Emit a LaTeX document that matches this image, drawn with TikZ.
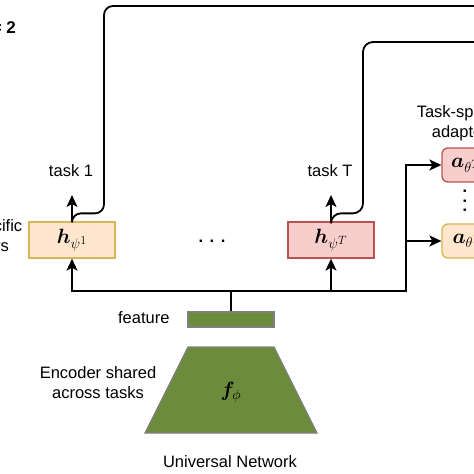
\documentclass[tikz,border=0pt]{standalone}
\usepackage{amsmath,bm}
\usepackage{fontspec}
\setmainfont{Liberation Sans}
\usetikzlibrary{arrows.meta}
\definecolor{orfill}{HTML}{FFE6CC}
\definecolor{ordraw}{HTML}{D6B656}
\definecolor{rdfill}{HTML}{F8CECC}
\definecolor{rddraw}{HTML}{B85450}
\definecolor{encgreen}{HTML}{6C8C3C}
\definecolor{encdraw}{HTML}{808080}
\begin{document}
\begin{tikzpicture}[x=1pt,y=-1pt,
  every node/.style={font=\fontsize{16.5}{20}\selectfont},
  mathlbl/.style={font=\fontsize{20.74}{25}\selectfont},
  wire/.style={line width=1.8pt},
  flow/.style={wire,-{Stealth[length=12pt,width=11pt,inset=3pt]}},
  headbox/.style={draw=#1draw,fill=#1fill,line width=1.3pt,minimum width=86pt,minimum height=36pt,inner sep=0pt,mathlbl},
  adbox/.style={draw=#1draw,fill=#1fill,line width=1.3pt,rounded corners=6pt,minimum width=48pt,minimum height=34pt,inner sep=0pt,mathlbl},
  featbox/.style={draw=encdraw,fill=encgreen,line width=1.3pt,minimum width=86pt,minimum height=15pt,inner sep=0pt}]
\useasboundingbox (0,0) rectangle (474,474);
\node[anchor=east,font=\fontsize{17}{20}\selectfont] (kk) at (19.5,28) {\textbf{= 2}};
\node[align=center] (heads) at (-25,236) {Task-specific\\decoders};
\node[align=center] (adapt) at (464,123) {Task-specific\\adapters};
\node[headbox=or] (h1) at (72,240) {$\boldsymbol{h}_{\psi^1}$};
\node[headbox=rd] (hT) at (331,240) {$\boldsymbol{h}_{\psi^T}$};
\node (dots) at (212,241) {\textbf{.\hspace{0.4em}.\hspace{0.4em}.}};
\node[adbox=rd] (aT) at (466,165) {$\boldsymbol{a}_{\theta^T}$};
\node[adbox=or] (a1) at (466,241) {$\boldsymbol{a}_{\theta^1}$};
\node[rotate=90] (vdots) at (465,201) {\textbf{.\hspace{0.3em}.\hspace{0.3em}.}};
\node (t1) at (71,171) {task 1};
\node (tT) at (330,171) {task T};
\coordinate (o1) at (72,195);
\coordinate (oT) at (331,195);
\coordinate (up1) at (490,6);
\coordinate (upT) at (490,42);
\draw[flow] (h1.north) -- (o1);
\draw[flow] (hT.north) -- (oT);
\draw[wire,rounded corners=9pt] (h1.north) -- ++(0,-8) -- ++(32,0) |- (up1);
\draw[wire,rounded corners=10pt] (hT.north) -- ++(0,-8) -- ++(32,0) |- (upT);
\node[featbox] (feat) at (231,319.5) {};
\node[anchor=east] (featlbl) at (173,318) {feature};
\coordinate (bus) at (231,291);
\coordinate (split) at (406,291);
\draw[wire] (feat.north) -- (bus);
\draw[flow] (bus) -| (h1.south);
\draw[flow] (bus) -| (hT.south);
\draw[flow] (bus) -- (split) |- (aT.west);
\draw[flow] (split) |- (a1.west);
\draw[draw=encdraw,fill=encgreen,line width=1.3pt] (188,347) -- (274,347) -- (317,433) -- (145,433) -- cycle;
\node[mathlbl] (fphi) at (231,392) {$\boldsymbol{f}_{\phi}$};
\node[align=center] (enclbl) at (98,383) {Encoder shared\\across tasks};
\node (univ) at (230,462) {Universal Network};
\end{tikzpicture}
\end{document}
